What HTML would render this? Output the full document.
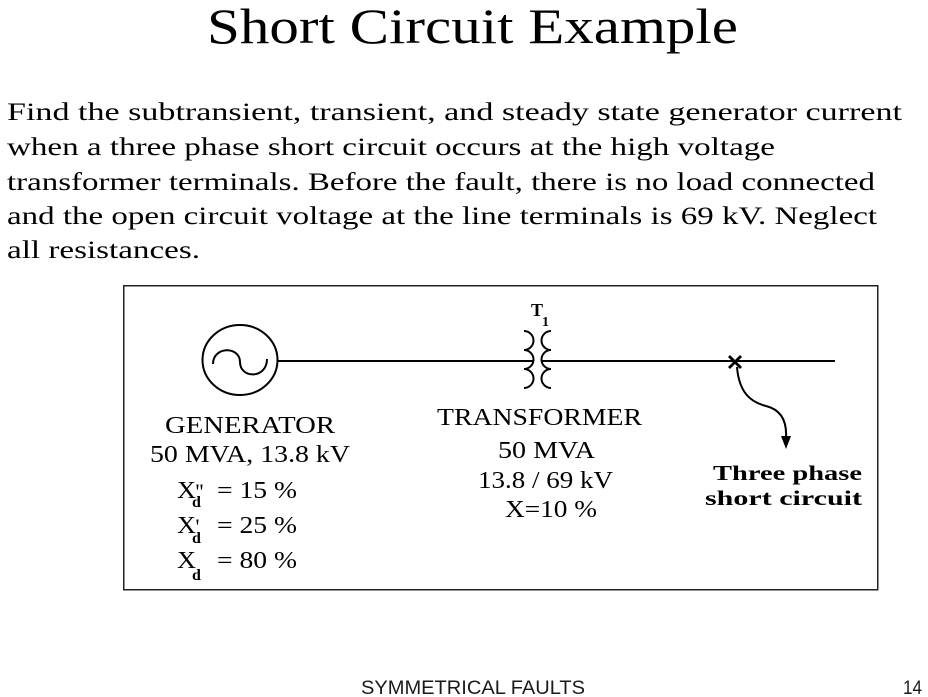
<!DOCTYPE html>
<html>
<head>
<meta charset="utf-8">
<style>
  html, body { margin:0; padding:0; background:#fff; }
  svg { display:block; }
  .serif { font-family: "Liberation Serif", serif; fill:#000; }
  .sans { font-family: "Liberation Sans", sans-serif; fill:#1a1a1a; }
</style>
</head>
<body>
<svg width="928" height="697" viewBox="0 0 928 697" xmlns="http://www.w3.org/2000/svg">
  <rect x="0" y="0" width="928" height="697" fill="#fff"/>

  <!-- Title -->
  <text class="serif" x="207" y="43" font-size="50" textLength="531" lengthAdjust="spacingAndGlyphs">Short Circuit Example</text>

  <!-- Paragraph -->
  <g class="serif" font-size="25">
    <text x="7" y="120" textLength="895" lengthAdjust="spacingAndGlyphs">Find the subtransient, transient, and steady state generator current</text>
    <text x="7" y="155" textLength="768" lengthAdjust="spacingAndGlyphs">when a three phase short circuit occurs at the high voltage</text>
    <text x="7" y="190" textLength="868" lengthAdjust="spacingAndGlyphs">transformer terminals. Before the fault, there is no load connected</text>
    <text x="7" y="224" textLength="870" lengthAdjust="spacingAndGlyphs">and the open circuit voltage at the line terminals is 69 kV. Neglect</text>
    <text x="7" y="258" textLength="193" lengthAdjust="spacingAndGlyphs">all resistances.</text>
  </g>

  <!-- Diagram box -->
  <rect x="123.75" y="285.75" width="754" height="304" fill="none" stroke="#222" stroke-width="1.5"/>

  <!-- Generator -->
  <ellipse cx="240" cy="360" rx="37.5" ry="35" fill="none" stroke="#000" stroke-width="2"/>
  <path d="M213,364 C213,346 240,346 240,362 C240,379 267,379 267,359" fill="none" stroke="#000" stroke-width="2"/>

  <!-- Bus line -->
  <line x1="277.5" y1="361" x2="533" y2="361" stroke="#000" stroke-width="2"/>
  <line x1="542" y1="361" x2="835" y2="361" stroke="#000" stroke-width="2"/>

  <!-- Transformer coils -->
  <path d="M524,331 A9.5,9.5 0 0 1 524,350 A9.5,9.5 0 0 1 524,369 A9.5,9.5 0 0 1 524,388" fill="none" stroke="#000" stroke-width="2"/>
  <path d="M551,331 A9.5,9.5 0 0 0 551,350 A9.5,9.5 0 0 0 551,369 A9.5,9.5 0 0 0 551,388" fill="none" stroke="#000" stroke-width="2"/>
  <text class="serif" x="531" y="316" font-size="18" font-weight="bold">T</text>
  <text class="serif" x="542" y="326" font-size="14" font-weight="bold">1</text>

  <!-- Fault X -->
  <line x1="729" y1="356" x2="741" y2="368" stroke="#000" stroke-width="2.8"/>
  <line x1="741" y1="356" x2="729" y2="368" stroke="#000" stroke-width="2.8"/>
  <path d="M737,367 C739,392 750,402 766,406 C782,410 787,422 786,438" fill="none" stroke="#000" stroke-width="2"/>
  <polygon points="781,436 791,436 786,449" fill="#000"/>

  <!-- Generator labels -->
  <g class="serif" font-size="24">
    <text x="165" y="433" textLength="170" lengthAdjust="spacingAndGlyphs">GENERATOR</text>
    <text x="150" y="462" textLength="200" lengthAdjust="spacingAndGlyphs">50 MVA, 13.8 kV</text>

    <text x="177" y="498" textLength="19" lengthAdjust="spacingAndGlyphs">X</text>
    <text x="217" y="498" textLength="80" lengthAdjust="spacingAndGlyphs">= 15 %</text>

    <text x="177" y="533" textLength="19" lengthAdjust="spacingAndGlyphs">X</text>
    <text x="217" y="533" textLength="80" lengthAdjust="spacingAndGlyphs">= 25 %</text>

    <text x="177" y="568" textLength="19" lengthAdjust="spacingAndGlyphs">X</text>
    <text x="217" y="568" textLength="80" lengthAdjust="spacingAndGlyphs">= 80 %</text>
  </g>
  <g class="serif" font-size="16" font-weight="bold">
    <text x="192" y="507">d</text>
    <text x="192" y="543">d</text>
    <text x="192" y="580">d</text>
  </g>
  <g class="serif" font-size="22">
    <text x="195.5" y="499">''</text>
    <text x="195.5" y="534">'</text>
  </g>

  <!-- Transformer labels -->
  <g class="serif" font-size="24">
    <text x="437" y="425" textLength="205" lengthAdjust="spacingAndGlyphs">TRANSFORMER</text>
    <text x="498" y="458" textLength="97" lengthAdjust="spacingAndGlyphs">50 MVA</text>
    <text x="478" y="488" textLength="135" lengthAdjust="spacingAndGlyphs">13.8 / 69 kV</text>
    <text x="505" y="517" textLength="92" lengthAdjust="spacingAndGlyphs">X=10 %</text>
  </g>

  <!-- Fault label -->
  <g class="serif" font-size="21" font-weight="bold">
    <text x="713" y="480" textLength="149" lengthAdjust="spacingAndGlyphs">Three phase</text>
    <text x="705" y="505" textLength="157" lengthAdjust="spacingAndGlyphs">short circuit</text>
  </g>

  <!-- Footer -->
  <text class="sans" x="361" y="694" font-size="19" textLength="224" lengthAdjust="spacingAndGlyphs">SYMMETRICAL FAULTS</text>
  <text class="sans" x="903" y="694" font-size="19" textLength="19" lengthAdjust="spacingAndGlyphs">14</text>
</svg>
</body>
</html>
